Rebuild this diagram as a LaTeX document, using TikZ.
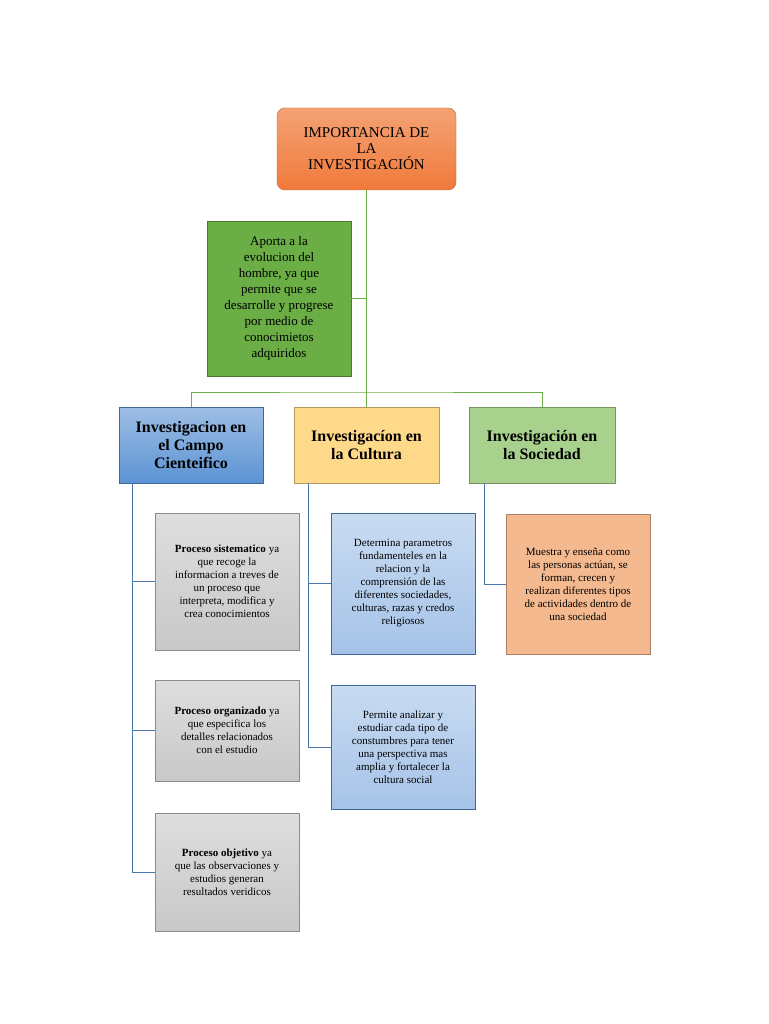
\documentclass[tikz,border=0pt]{standalone}
\usepackage{fontspec}
\setmainfont{Liberation Serif}
\begin{document}
\begin{tikzpicture}[x=1pt,y=-1pt,
 box/.style={draw=#1!70!black,line width=0.6pt,align=center,inner sep=2pt},
 conn/.style={line width=0.7pt},
 txt/.style={font=\fontsize{11}{13}\selectfont}]
\useasboundingbox (0,0) rectangle (768,1024);
\definecolor{orng}{HTML}{F07A3A}
\definecolor{grn}{HTML}{6AAE45}
\definecolor{blu}{HTML}{5C93D4}
\definecolor{ylw}{HTML}{FFD98A}
\definecolor{sgrn}{HTML}{A9D18E}
\definecolor{gry}{HTML}{C8C8C8}
\definecolor{lblu}{HTML}{A5C3E8}
\definecolor{peach}{HTML}{F4B98F}
% title
\node[draw=orng!80!black,rounded corners=8pt,top color=orng!70!white,bottom color=orng,minimum width=179,minimum height=82,align=center,font=\fontsize{15}{16}\selectfont] (t) at (366.5,149) {IMPORTANCIA DE\\LA\\INVESTIGACIÓN};
\node[box=grn,fill=grn,minimum width=144,minimum height=155,font=\fontsize{13}{16}\selectfont] (a) at (279,298.5) {Aporta a la\\evolucion del\\hombre, ya que\\permite que se\\desarrolle y progrese\\por medio de\\conocimietos\\adquiridos};
\node[box=blu,top color=blu!60!white,bottom color=blu,minimum width=144,minimum height=76,font=\bfseries\fontsize{16}{18}\selectfont] (c) at (191,445) {Investigacion en\\el Campo\\Cienteifico};
\node[box=ylw,fill=ylw,minimum width=145,minimum height=76,font=\bfseries\fontsize{16}{18}\selectfont] (u) at (366.5,445) {Investigacíon en\\la Cultura};
\node[box=sgrn,fill=sgrn,minimum width=146,minimum height=76,font=\bfseries\fontsize{16}{18}\selectfont] (s) at (542,445) {Investigación en\\la Sociedad};
\node[box=gry,top color=gry!60!white,bottom color=gry,minimum width=144,minimum height=137,txt] (g1) at (227,581.5) {\textbf{Proceso sistematico} ya\\que recoge la\\informacion a treves de\\un proceso que\\interpreta, modifica y\\crea conocimientos};
\node[box=gry,top color=gry!60!white,bottom color=gry,minimum width=144,minimum height=101,txt] (g2) at (227,730.5) {\textbf{Proceso organizado} ya\\que especifica los\\detalles relacionados\\con el estudio};
\node[box=gry,top color=gry!60!white,bottom color=gry,minimum width=144,minimum height=118,txt] (g3) at (227,872) {\textbf{Proceso objetivo} ya\\que las observaciones y\\estudios generan\\resultados veridicos};
\node[box=blu,top color=lblu!60!white,bottom color=lblu,minimum width=144,minimum height=141,txt] (b1) at (403,583.5) {Determina parametros\\fundamenteles en la\\relacion y la\\comprensión de las\\diferentes sociedades,\\culturas, razas y credos\\religiosos};
\node[box=blu,top color=lblu!60!white,bottom color=lblu,minimum width=144,minimum height=124,txt] (b2) at (403,747) {Permite analizar y\\estudiar cada tipo de\\constumbres para tener\\una perspectiva mas\\amplia y fortalecer la\\cultura social};
\node[box=peach,fill=peach,minimum width=144,minimum height=140,txt] (p) at (578,584) {Muestra y enseña como\\las personas actúan, se\\forman, crecen y\\realizan diferentes tipos\\de actividades dentro de\\una sociedad};
% connectors
\coordinate (j) at (366.5,392);
\draw[conn,grn] (t.south) -- (j);
\draw[conn,grn] (a.east) -- (a.east -| j);
\draw[conn,grn] (c.north) |- (j) -| (s.north);
\draw[conn,grn] (j) -- (u.north);
\draw[conn,blu!80!black] (c.south west) ++(14,0) coordinate (cl) |- (g1.west);
\draw[conn,blu!80!black] (cl) |- (g2.west);
\draw[conn,blu!80!black] (cl) |- (g3.west);
\draw[conn,blu!80!black] (u.south west) ++(15,0) coordinate (ul) |- (b1.west);
\draw[conn,blu!80!black] (ul) |- (b2.west);
\draw[conn,blu!80!black] (s.south west) ++(16,0) |- (p.west);
\end{tikzpicture}
\end{document}
